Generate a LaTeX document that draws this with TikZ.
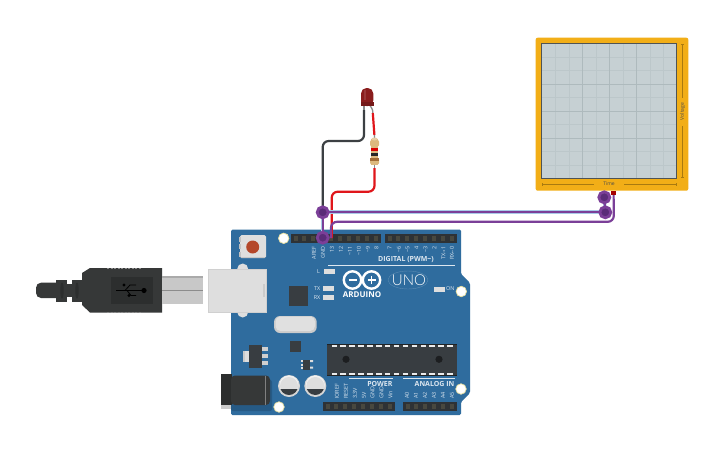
\documentclass[tikz,border=0pt]{standalone}
\usepackage{fontspec}
\setmainfont{Open Sans}
\newfontfamily\thinfont{Lato Light}
\newfontfamily\arrowfont{DejaVu Sans}
\usetikzlibrary{calc}
\definecolor{boardblue}{HTML}{2F6C9E}
\definecolor{boardshade}{HTML}{265A85}
\definecolor{hdr}{HTML}{2E3235}
\definecolor{hdrpin}{HTML}{48483F}
\definecolor{silk}{HTML}{DDE7F0}
\definecolor{chip}{HTML}{383D41}
\definecolor{port}{HTML}{DEDEDE}
\definecolor{plug}{HTML}{363838}
\definecolor{plugdk}{HTML}{2C2E2E}
\definecolor{metal}{HTML}{C8C8C8}
\definecolor{holeedge}{HTML}{E8DF9E}
\definecolor{wpurple}{HTML}{7B3F98}
\definecolor{wpurpledk}{HTML}{5A2C78}
\definecolor{wblue}{HTML}{A9CBE8}
\definecolor{wred}{HTML}{E0161B}
\definecolor{wblack}{HTML}{3C4043}
\definecolor{scoporange}{HTML}{F2AE17}
\definecolor{scopscreen}{HTML}{C6D0D3}
\definecolor{gridmin}{HTML}{BCC7CA}
\definecolor{gridmaj}{HTML}{AEBABD}
\definecolor{ledred}{HTML}{8A1D1D}
\definecolor{restan}{HTML}{DDB97E}
\definecolor{btnred}{HTML}{B4472A}
\tikzset{
  x=1pt,y=-1pt,
  hole/.style={circle,draw=holeedge,line width=.7pt,fill=white,minimum size=10.5pt,inner sep=0pt},
  silklab/.style={text=silk,font=\fontsize{5.4}{6}\selectfont,inner sep=0pt},
  bigsilk/.style={text=silk,font=\fontsize{7}{8}\bfseries\selectfont,inner sep=0pt},
  wire/.style={line width=2.2pt,rounded corners=6pt},
  probe/.style={circle,fill=wpurpledk,draw=wpurple,line width=2.8pt,minimum size=11pt,inner sep=0pt},
  smallled/.style={fill=#1,minimum width=11pt,minimum height=5pt,inner sep=0pt},
  smallled/.default=port
}
\begin{document}
\begin{tikzpicture}
\useasboundingbox (0,0) rectangle (725,453);
\fill[white] (0,0) rectangle (725,453);

% ---------- USB plug
\fill[plug,rounded corners=5pt] (36,282.7) rectangle (62,298);
\fill[plug] (56,279.5) rectangle (67,301.5);
\fill[plug] (66,284) rectangle (73,297);
\fill[plug] (72,279.5) rectangle (83,301.5);
\fill[plugdk] (62,290.5) ellipse (1.7 and 8);
\fill[plugdk] (77,290.5) ellipse (1.7 and 8);
\fill[plug] (82,273) -- (90,268) -- (162,268) -- (162,312.5) -- (90,312.5) -- (82,305) -- cycle;
\fill[metal] (162,276) rectangle (202.7,304);
\fill[metal!85!black] (162,276) rectangle (202.7,277.5);
\draw[metal!70!black,line width=.4pt] (162,290) -- (202.7,290);
\fill[plugdk] (111,276.7) rectangle (152.7,304);
\draw[white!55!black,line width=1pt,dash pattern=on 2pt off 1.5pt] (107,268.5) -- (141,268.5);
\draw[white!55!black,line width=1pt,dash pattern=on 2pt off 1.5pt] (107,312) -- (141,312);
\draw[black,line width=.8pt] (116,290.5) -- (144,290.5);
\draw[black,line width=.8pt] (125,290.5) -- (130,285) -- (136,285);
\draw[black,line width=.8pt] (127,290.5) -- (131,295.5) -- (136,295.5);
\fill[black] (144,290.5) circle (2.6);
\fill[black] (124,285) circle (1.7);
\fill[black] (129,295.5) circle (1.7);

% ---------- Board
\fill[boardblue,rounded corners=1.5pt] (231,229.5) -- (461,229.5) -- (461,274) -- (470,283) -- (470,393) -- (461,402) -- (461,415) -- (231,415) -- cycle;
\node[hole] (h1) at (283.7,238.3) {};
\node[hole] (h2) at (461.3,291.5) {};
\node[hole] (h3) at (461,389) {};
\node[hole] (h4) at (279,407) {};

% headers
\fill[hdr] (291,234) rectangle (380.7,242.5);
\fill[hdr] (385,234) rectangle (456.7,242.5);
\fill[hdr] (323.3,402.3) rectangle (395,410.7);
\fill[hdr] (403,402.3) rectangle (456.7,410.7);
\foreach \i in {0,...,9}{\fill[hdrpin] ({293.5+8.97*\i},236) rectangle ++(4,4.5);}
\foreach \i in {0,...,7}{\fill[hdrpin] ({387.5+8.97*\i},236) rectangle ++(4,4.5);}
\foreach \i in {0,...,7}{\fill[hdrpin] ({325.5+8.97*\i},404.3) rectangle ++(4,4.5);}
\foreach \i in {0,...,5}{\fill[hdrpin] ({405.5+8.97*\i},404.3) rectangle ++(4,4.5);}

% top pin labels
\foreach \x/\t/\n in {314/AREF/a,323/GND/b,332/13/c,341/12/d,350/\textasciitilde 11/e,359/\textasciitilde 10/f,368/\textasciitilde 9/g,376.5/8/h,389.7/7/i,399/\textasciitilde 6/j,407.5/\textasciitilde 5/k,416.5/4/l,425.5/\textasciitilde 3/m,434.5/2/n,443.5/TX{\arrowfont\fontsize{4}{4}\selectfont→}1/o,452/RX{\arrowfont\fontsize{4}{4}\selectfont←}0/p}
  \node[silklab,rotate=90,anchor=east] (top\n) at (\x,246.5) {\t};
% bottom pin labels
\foreach \x/\t/\n in {337/IOREF/a,346/RESET/b,355/3.3V/c,364/5V/d,372.5/GND/e,381.5/GND/f,390.5/Vin/g,407/A0/h,416/A1/i,425/A2/j,434/A3/k,443/A4/l,452/A5/m}
  \node[silklab,rotate=90,anchor=west] (bot\n) at (\x,399) {\t};

\node[bigsilk] (digital) at (406,260) {DIGITAL (PWM\textasciitilde)};
\draw[silk,line width=.7pt] (328,265.3) -- (455,265.3);
\node[bigsilk,anchor=east] (power) at (392.7,383.5) {POWER};
\draw[silk,line width=.7pt] (349,378.3) -- (392.7,378.3);
\node[bigsilk,anchor=east] (analog) at (454.5,383.5) {ANALOG IN};
\draw[silk,line width=.7pt] (403,378.3) -- (454.5,378.3);

% logo
\draw[white,line width=2.4pt] (352.5,280) circle (8.7);
\draw[white,line width=2.4pt] (371.5,280) circle (8.7);
\draw[white,line width=1.5pt] (348.5,280) -- (356.5,280);
\draw[white,line width=1.5pt] (367.5,280) -- (375.5,280) (371.5,276) -- (371.5,284);
\node[text=white,font=\fontsize{8}{9}\bfseries\selectfont,inner sep=0pt] (arduino) at (362,295) {ARDUINO};
\draw[silk!25!boardblue,line width=.4pt] (408,280) ellipse (20 and 9);
\node[text=white,font=\fontsize{15}{16}\thinfont\selectfont,inner sep=0pt] (uno) at (409,280) {UNO};

% small LEDs
\node[smallled] (ledL) at (329,271.7) {};
\node[smallled] (ledTX) at (328,288.5) {};
\node[smallled] (ledRX) at (328,297.5) {};
\node[smallled] (ledON) at (439,289) {};
\node[silklab,anchor=east] (labL) at (320,271.7) {L};
\node[silklab,anchor=east] (labTX) at (320.5,288.5) {TX};
\node[silklab,anchor=east] (labRX) at (320.5,297.5) {RX};
\node[silklab,anchor=west] (labON) at (446,289) {ON};

% chips
\fill[chip] (289,286) rectangle (308,306);
\fill[chip] (290,340.7) rectangle (301,352);
% crystal
\fill[port!80!gray,rounded corners=6pt] (274,316) rectangle (316.7,333);
\fill[port!95!white,rounded corners=5pt] (275.5,316.5) rectangle (315,331);
% button
\fill[port,rounded corners=1.5pt] (240,235) rectangle (266,258);
\foreach \y in {239,246.5,254}{\fill[port!70!gray] (238.8,{\y-2.5}) rectangle (240.5,{\y+2.5});}
\fill[port!75!gray] (241,257) rectangle (265,258);
\fill[btnred] (252.7,247) circle (6.5);
% USB port
\fill[port] (242.7,269) circle (5.5);
\fill[port] (242.7,312) circle (5.5);
\fill[port] (208,269) rectangle (265.7,312);
\fill[port!80!gray] (263,284) rectangle (265,297);
\draw[port!85!gray,line width=.4pt] (208,269) rectangle (265.7,312);

% regulator
\fill[port] (243,351) rectangle (250,362);
\fill[port!80!gray] (243,351) rectangle (244.5,362);
\foreach \y in {349,356,363}{\fill[port!85!gray] (260,{\y-1.8}) rectangle (268,{\y+1.8});}
\fill[chip] (249,345) rectangle (261.7,367.7);
% small transistor
\foreach \y in {361,364.5,368}{\fill[port] (301,{\y-1}) rectangle (305,{\y+1});}
\fill[port] (309,360) rectangle (313,362) (309,366.5) rectangle (313,368.5);
\fill[chip] (303,359.5) rectangle (310,369.5);

% IC
\fill[chip] (327,344) rectangle (457,376);
\fill[hdr!70!black] (327,344) rectangle (457,345);
\fill[hdr!70!black] (327,375) rectangle (457,376);
\foreach \i in {0,...,13}{
  \fill[white!92!black] ({331.5+8.9*\i},345.3) rectangle ++(5.5,1.8);
  \fill[white!92!black] ({331.5+8.9*\i},372.8) rectangle ++(5.5,1.8);
}
\fill[hdr!60!black] (346,359.3) circle (3.6);
\fill[hdr!60!black] (439,359.3) circle (3.6);

% capacitors
\foreach \x/\n in {289/c1,315.3/c2}{
  \fill[port!90!gray] (\x,386) circle (11);
  \fill[white!90!gray] (\x,385) circle (9.5);
  \fill[port] (\x,386) circle (9);
  \begin{scope}
    \clip (\x,386) circle (9);
    \fill[chip] ({\x-10},389) rectangle ({\x+10},397);
  \end{scope}
}

% power jack
\fill[boardshade,rounded corners=2pt] (231,380) rectangle (272,411);
\fill[port!80!gray] (221,404) rectangle (231,408.5);
\fill[plugdk] (221,374) rectangle (232,405);
\fill[plug,rounded corners=4pt] (231,375.5) rectangle (270,405);
\draw[gray,line width=.3pt] (265.5,375.5) -- (265.5,405);

% ---------- Oscilloscope
\node[draw=none,fill=scoporange,rounded corners=2pt,minimum width=152.6pt,minimum height=153pt,inner sep=0pt] (scope) at (612,114.2) {};
\fill[scopscreen] (541.7,43.3) rectangle (676.7,178.3);
\foreach \i in {1,...,9}{
  \draw[gridmin,line width=.35pt] ({541.7+13.5*\i},43.3) -- ({541.7+13.5*\i},178.3);
  \draw[gridmin,line width=.35pt] (541.7,{43.3+13.5*\i}) -- (676.7,{43.3+13.5*\i});
}
\foreach \i in {3,5,7}{
  \draw[gridmaj,line width=.45pt] ({541.7+13.5*\i},43.3) -- ({541.7+13.5*\i},178.3);
  \draw[gridmaj,line width=.45pt] (541.7,{43.3+13.5*\i}) -- (676.7,{43.3+13.5*\i});
}
\draw[black!60!scopscreen,line width=1.3pt] (541.7,43.3) rectangle (676.7,178.3);
\node[text=black!70,font=\fontsize{5}{6}\selectfont,inner sep=0pt] (timelab) at (609,184) {Time};
\draw[black!30!scoporange,line width=.35pt] (542,183) -- (542,186) (542,184.5) -- (594,184.5) (624,184.5) -- (675.7,184.5) (675.7,183) -- (675.7,186);
\node[text=black!70,font=\fontsize{5}{6}\selectfont,inner sep=0pt,rotate=90] (voltlab) at (682.5,111.5) {Voltage};
\draw[black!30!scoporange,line width=.35pt] (681,44.5) -- (684,44.5) (682.5,44.5) -- (682.5,98) (682.5,126) -- (682.5,177) (681,177) -- (684,177);

% ---------- Terminals
\coordinate (ledk) at (364,106);
\coordinate (leda) at (370,106);
\coordinate (resT) at (374.5,139);
\coordinate (resB) at (374.5,165);
\coordinate (pin13) at (331.7,238);
\coordinate (pin13p) at (331,238);
\coordinate (scopeplus) at (613.6,193);
\coordinate (gndn) at (322.7,237.7);
\coordinate (midn) at (322.7,212.3);
\coordinate (sn1) at (604.3,197.3);
\coordinate (sn2) at (605.3,212.3);

% LED
\draw[gray!90,line width=1.3pt] (ledk) -- (364,112);
\draw[gray!90,line width=1.3pt,rounded corners=2pt] (leda) -- (372.4,108) -- (372.8,113);
\fill[ledred,rounded corners=5.5pt] (361,88) rectangle (373.3,106);
\fill[ledred] (361,98) rectangle (373.3,105);
\fill[ledred!85!black] (360.5,102) rectangle (374,106);
\fill[ledred!88!white] (363.5,90) rectangle (366,100);

% wires led-resistor
\draw[wblack,wire] (364,110) -- (364,141) -- (322.7,141) -- (midn);
\draw[wred,line width=2.2pt] (372.8,113) -- (374.4,135);
\draw[gray!90,line width=1.3pt] (374.4,135) -- (resT);
\draw[gray!90,line width=1.3pt] (resB) -- (374.5,169);
\draw[wred,wire] (374.5,168) -- (374.5,191.7) -- (331.7,191.7) -- (pin13);

% resistor
\node[draw=none,fill=restan,minimum width=6.5pt,minimum height=26pt,inner sep=0pt] (resistor) at (374.5,152) {};
\fill[restan,rounded corners=2pt] (370,140) rectangle (379.2,146.5);
\fill[restan,rounded corners=2pt] (370,158) rectangle (379.2,164.5);
\fill[restan!70!white] (374.5,139) ellipse (3 and 1.5);
\fill[red!85!black] (371.2,147.8) rectangle (377.8,151);
\fill[black!85] (371.2,153) rectangle (377.8,156);
\fill[brown!85!black] (370,158.3) rectangle (379.2,161.2);

% purple wires
\draw[wblue,line width=3.8pt] (midn) -- (sn2);
\draw[wblue,line width=3.2pt] (midn) -- (gndn);
\draw[wblue,line width=3.2pt] (sn1) -- (sn2);
\draw[wpurple,line width=2.2pt] (midn) -- (sn2);
\draw[wpurple,line width=2.2pt] (midn) -- (gndn);
\draw[wpurple,line width=2.2pt] (sn1) -- (sn2);
\draw[wpurple,wire] (pin13p) -- (331,221.8) -- (613.8,221.8) -- (scopeplus);
\node[draw=none,fill=red!65!black,minimum size=4.5pt,inner sep=0pt] (term) at (scopeplus) {};
\node[probe] (p1) at (midn) {};
\node[probe] (p2) at (gndn) {};
\node[probe] (p3) at (sn1) {};
\node[probe] (p4) at (sn2) {};
\end{tikzpicture}
\end{document}
